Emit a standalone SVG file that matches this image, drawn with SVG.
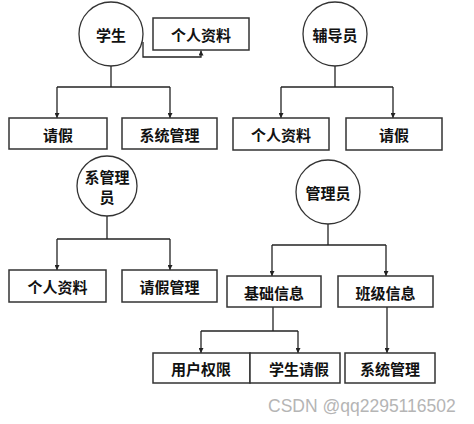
<svg xmlns="http://www.w3.org/2000/svg" width="474" height="424" viewBox="0 0 474 424">
<defs>
<marker id="ah" viewBox="0 0 10 10" refX="10" refY="5" markerWidth="5" markerHeight="5" orient="auto" markerUnits="userSpaceOnUse">
<path d="M0,0 L10,5 L0,10 Z" fill="#222"/>
</marker>
<style>
.c{fill:#fff;stroke:#333;stroke-width:1.3}
.b{fill:#fff;stroke:#333;stroke-width:1.5}
.t{font-family:"Noto Sans CJK SC","Noto Sans",serif;font-weight:bold;font-size:15px;fill:#111;text-anchor:middle;dominant-baseline:central}
.l{fill:none;stroke:#222;stroke-width:1.3}
.a{marker-end:url(#ah)}
</style>
</defs>
<rect width="474" height="424" fill="#fff"/>
<g id="connectors">
<polyline class="l a" points="143,42 143,57 201,57 201,50.5"/>
<line class="l" x1="111" y1="66" x2="111" y2="87"/>
<polyline class="l a" points="57,87 57,118"/>
<polyline class="l" points="57,87 170,87"/>
<polyline class="l a" points="170,87 170,118"/>
<line class="l" x1="335" y1="66" x2="335" y2="87"/>
<polyline class="l" points="281,87 393,87"/>
<polyline class="l a" points="281,87 281,118"/>
<polyline class="l a" points="393,87 393,118"/>
<line class="l" x1="107" y1="216" x2="107" y2="239"/>
<polyline class="l" points="57,239 170,239"/>
<polyline class="l a" points="57,239 57,270"/>
<polyline class="l a" points="170,239 170,270"/>
<line class="l" x1="328" y1="224" x2="328" y2="245"/>
<polyline class="l" points="272,245 386,245"/>
<polyline class="l a" points="272,245 272,276"/>
<polyline class="l a" points="386,245 386,276"/>
<line class="l" x1="273" y1="307" x2="273" y2="331"/>
<polyline class="l" points="201,331 298,331"/>
<polyline class="l a" points="201,331 201,353"/>
<polyline class="l a" points="298,331 298,353"/>
<polyline class="l a" points="387,307 387,353"/>
<path d="M252,369 L256,366.5 L256,371.5 Z" fill="#6a7f9a"/>
</g>
<g id="n-student"><circle class="c" cx="111" cy="34" r="32"/><text class="t" x="111" y="34">学生</text></g>
<g id="n-student-info"><rect class="b" x="153" y="18" width="96" height="32"/><text class="t" x="201" y="34">个人资料</text></g>
<g id="n-student-leave"><rect class="b" x="9" y="118" width="98" height="31"/><text class="t" x="58" y="134">请假</text></g>
<g id="n-student-sys"><rect class="b" x="122" y="118" width="95" height="31"/><text class="t" x="169.5" y="134">系统管理</text></g>
<g id="n-counselor"><circle class="c" cx="335" cy="34" r="32"/><text class="t" x="335" y="34">辅导员</text></g>
<g id="n-counselor-info"><rect class="b" x="233" y="118" width="96" height="32"/><text class="t" x="281" y="134">个人资料</text></g>
<g id="n-counselor-leave"><rect class="b" x="346" y="118" width="96" height="32"/><text class="t" x="394" y="134">请假</text></g>
<g id="n-dept"><circle class="c" cx="107" cy="186" r="30"/><text class="t" x="107" y="176">系管理</text><text class="t" x="107" y="196">员</text></g>
<g id="n-dept-info"><rect class="b" x="9" y="270" width="97" height="32"/><text class="t" x="57.5" y="286">个人资料</text></g>
<g id="n-dept-leave"><rect class="b" x="122" y="270" width="95" height="32"/><text class="t" x="169.5" y="286">请假管理</text></g>
<g id="n-admin"><circle class="c" cx="328" cy="192" r="32"/><text class="t" x="328" y="192">管理员</text></g>
<g id="n-basic"><rect class="b" x="227" y="276" width="94" height="31"/><text class="t" x="274" y="292">基础信息</text></g>
<g id="n-class"><rect class="b" x="338" y="276" width="95" height="31"/><text class="t" x="385.5" y="292">班级信息</text></g>
<g id="n-perm"><rect class="b" x="153" y="353" width="97" height="30"/><text class="t" x="201" y="368">用户权限</text></g>
<g id="n-sleave"><rect class="b" x="250" y="353" width="90" height="30"/><text class="t" x="299" y="368">学生请假</text></g>
<g id="n-sys"><rect class="b" x="345" y="353" width="90" height="30"/><text class="t" x="390" y="368">系统管理</text></g>
<text x="268" y="412" font-family="'Liberation Sans',Arial,sans-serif" font-size="17.5" fill="#b5b5b5">CSDN @qq2295116502</text>
</svg>
